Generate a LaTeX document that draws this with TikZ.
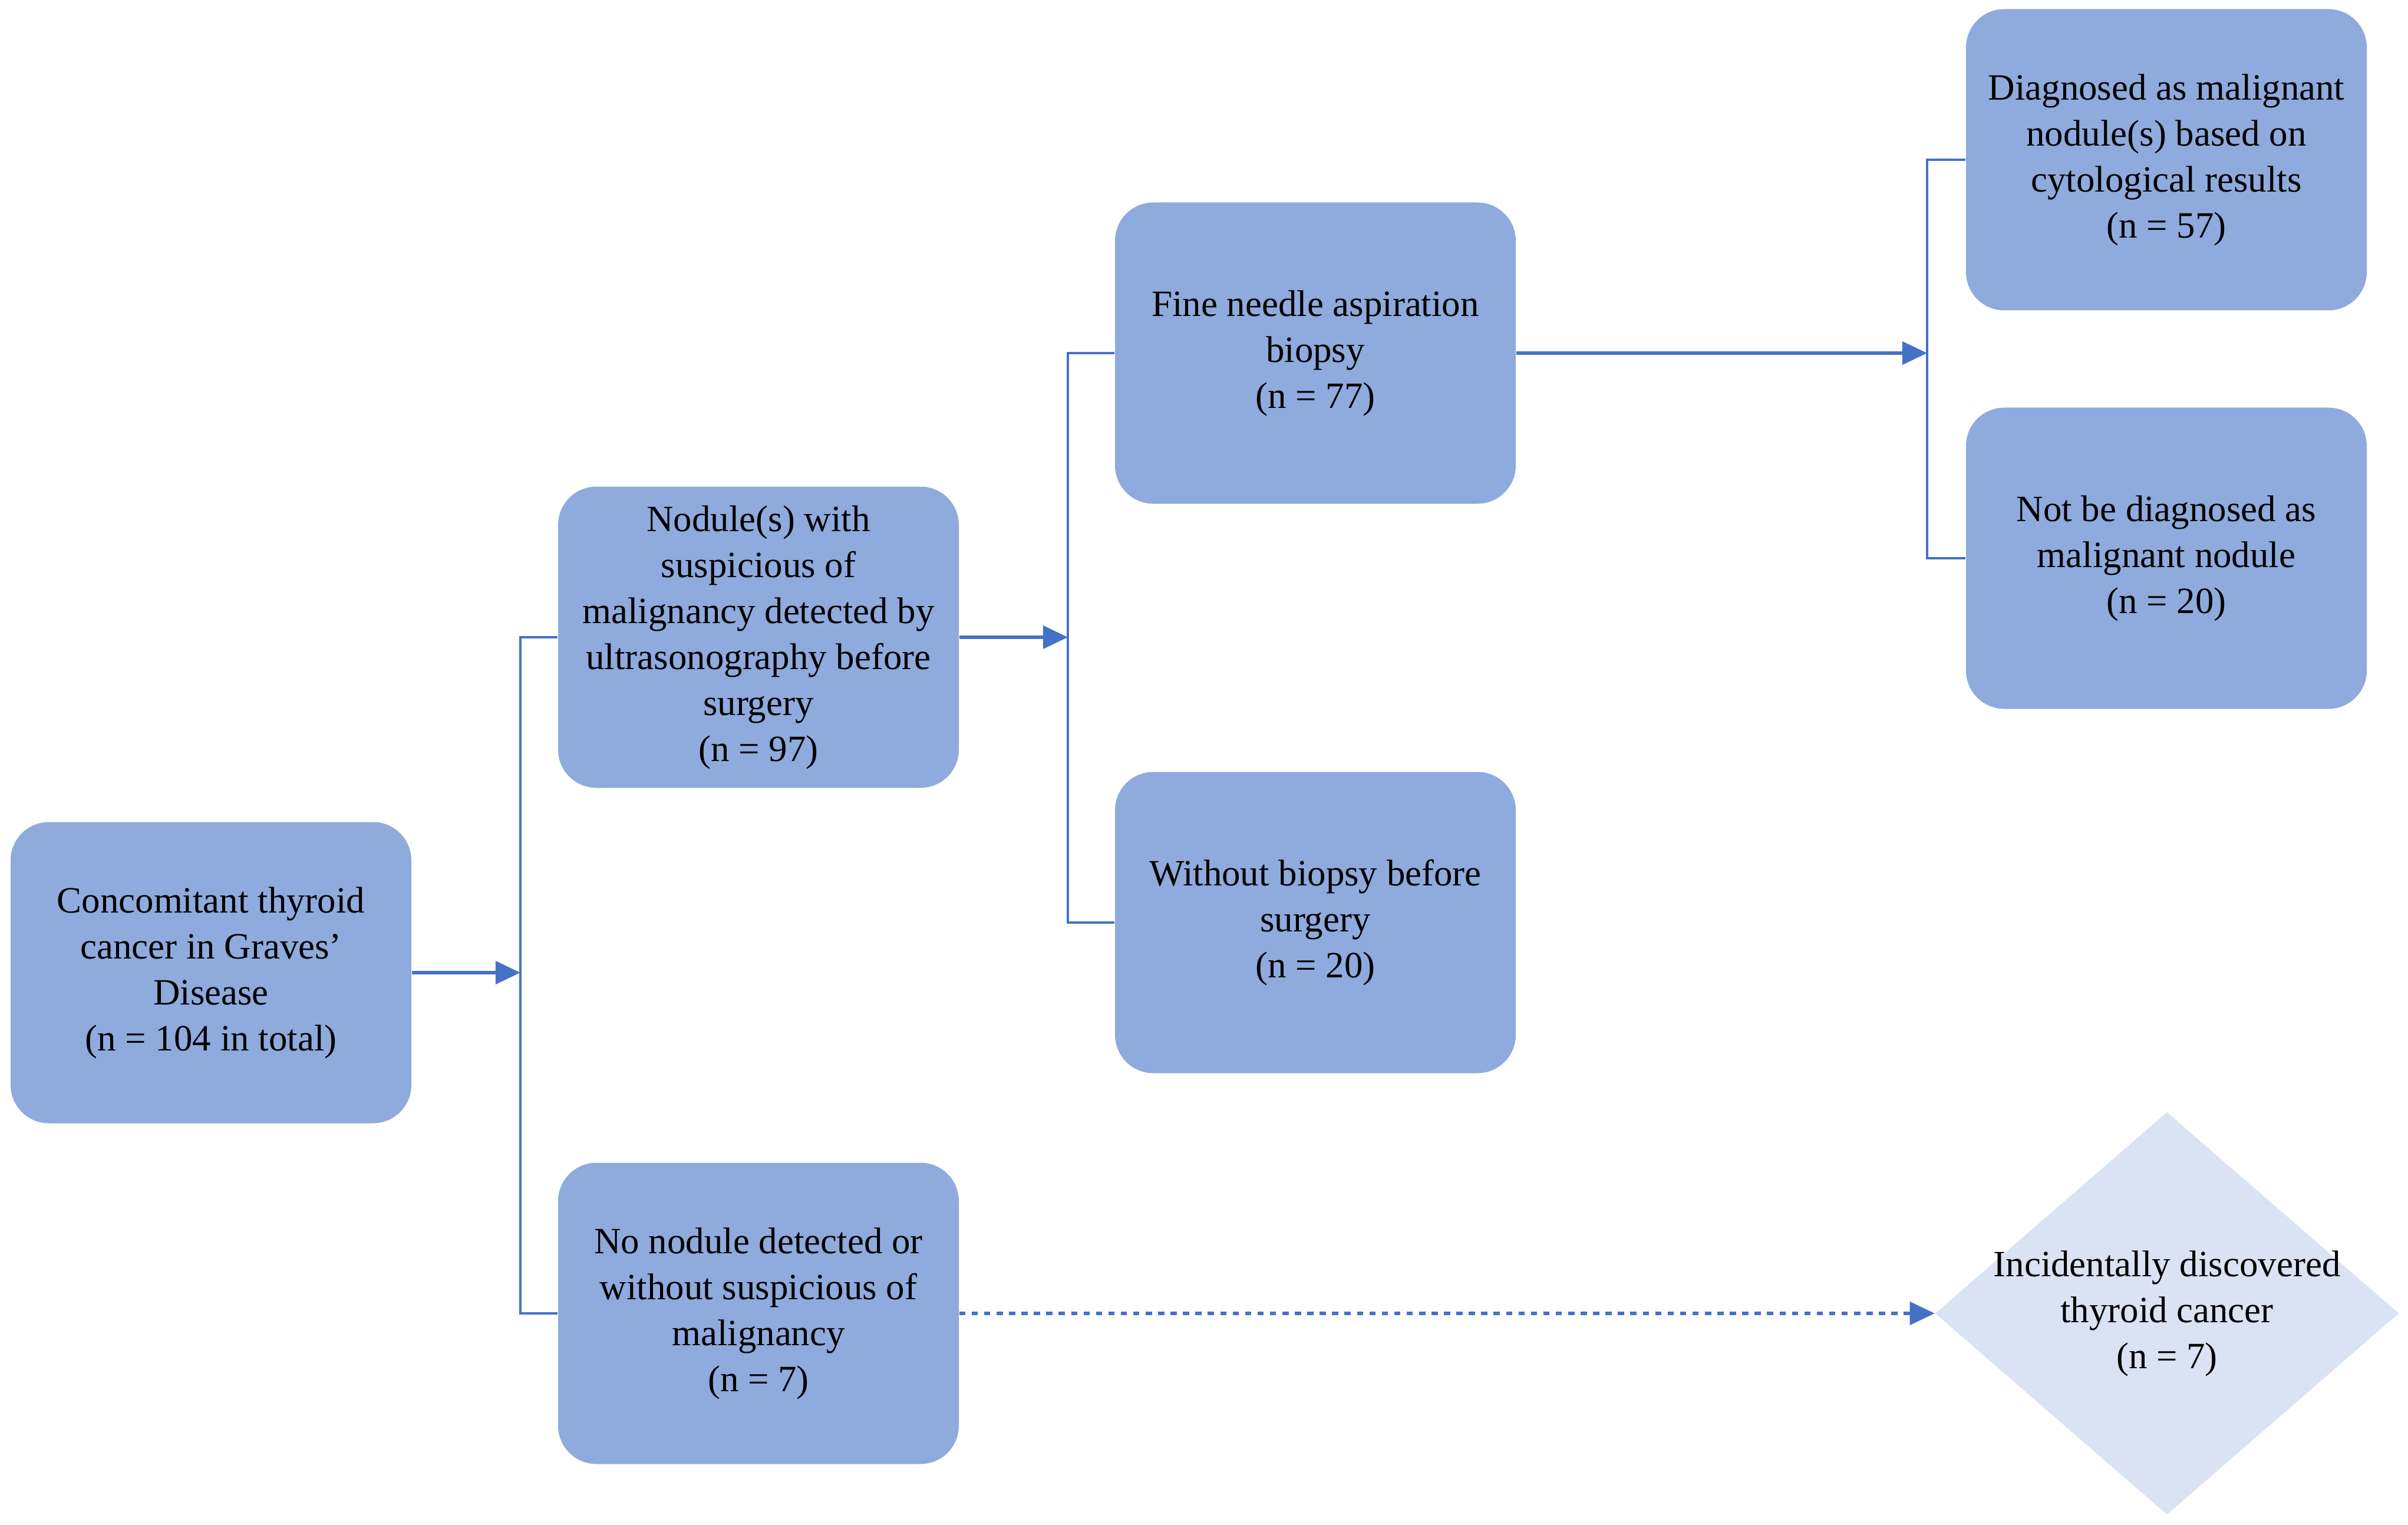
\documentclass[tikz,border=0pt]{standalone}
\usepackage{fontspec}
\setmainfont{Liberation Serif}
\usetikzlibrary{arrows.meta,shapes.geometric}
\definecolor{boxblue}{HTML}{8FAADC}
\definecolor{lineblue}{HTML}{4472C4}
\definecolor{paleblue}{HTML}{DAE3F3}

\begin{document}
\begin{tikzpicture}[
    etape/.style={rectangle, rounded corners=0.65cm, fill=boxblue, minimum width=6.8cm,
                  minimum height=5.11cm, inner sep=1mm, align=center,
                  font=\fontsize{17.9}{22.2}\selectfont},
    fin/.style={diamond, aspect=1.15, fill=paleblue, minimum width=7.87cm, minimum height=6.83cm,
                inner sep=-2mm, align=center, font=\fontsize{17.9}{22.2}\selectfont},
    lien/.style={draw=lineblue, line width=1.2pt},
    fleche/.style={draw=lineblue, line width=1.6pt, -{Triangle[length=12pt,width=11pt]}},
    pointille/.style={fleche, dash pattern=on 3pt off 3pt}]
                          \useasboundingbox (0,0) rectangle (40.86,-25.87);
                          \node[etape] (total) at (3.58,-16.50) {Concomitant thyroid\\cancer in Graves’\\Disease\\(n = 104 in total)};
                          \node[etape] (suspect) at (12.87,-10.81) {Nodule(s) with\\suspicious of\\malignancy detected by\\ultrasonography before\\surgery\\(n = 97)};
                          \node[etape] (nonsusp) at (12.87,-22.28) {No nodule detected or\\without suspicious of\\malignancy\\(n = 7)};
                          \node[etape] (fna) at (22.32,-5.99) {Fine needle aspiration\\biopsy\\(n = 77)};
                          \node[etape] (nobiop) at (22.32,-15.65) {Without biopsy before\\surgery\\(n = 20)};
                          \node[etape] (malin) at (36.76,-2.71) {Diagnosed as malignant\\nodule(s) based on\\cytological results\\(n = 57)};
                          \node[etape] (nonmalin) at (36.76,-9.47) {Not be diagnosed as\\malignant nodule\\(n = 20)};
                          \node[fin] (fortuit) at (36.77,-22.28) {Incidentally discovered\\thyroid cancer\\(n = 7)};
                          \coordinate (j1) at (8.83,-16.50);
                          \coordinate (j2) at (18.12,-10.81);
                          \coordinate (j3) at (32.70,-5.99);
                          \draw[fleche] (total.east) -- (j1);
                          \draw[lien] (suspect.west) -| (j1) |- (nonsusp.west);
                          \draw[fleche] (suspect.east) -- (j2);
                          \draw[lien] (fna.west) -| (j2) |- (nobiop.west);
                          \draw[fleche] (fna.east) -- (j3);
                          \draw[lien] (malin.west) -| (j3) |- (nonmalin.west);
                          \draw[pointille] (nonsusp.east) -- (fortuit.west); % seul lien en pointillé
                      \end{tikzpicture}
\end{document}
